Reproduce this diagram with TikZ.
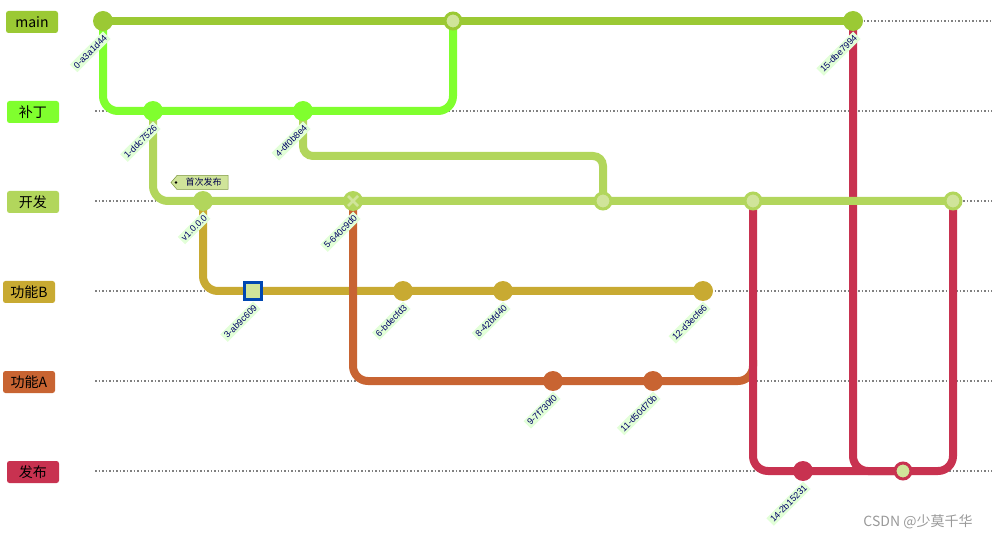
\documentclass[tikz,border=0pt]{standalone}
\usetikzlibrary{calc}
\usepackage{fontspec}
\setmainfont{Liberation Sans}
\newfontfamily\cjk{Noto Sans CJK SC}
\begin{document}
\begin{tikzpicture}[x=1pt,y=-1pt]
\definecolor{cmain}{HTML}{9BC934}
\definecolor{cpatch}{HTML}{80FF2E}
\definecolor{cdev}{HTML}{B2D65C}
\definecolor{cfb}{HTML}{C8AA32}
\definecolor{cfa}{HTML}{C86432}
\definecolor{crel}{HTML}{C83250}
\definecolor{clight}{HTML}{D0E49A}
\definecolor{clab}{HTML}{E2FFD8}
\tikzset{
 br/.style={line width=8pt,rounded corners=15pt},
 grid/.style={gray,dotted,line width=1.5pt},
 blabel/.style={rounded corners=2.5pt,minimum width=52pt,minimum height=22pt,inner sep=0pt,font=\cjk\fontsize{14}{14}\selectfont},
 clabel/.style={fill=clab,rotate=45,anchor=east,font=\fontsize{9}{9}\selectfont,text=black!60!blue,inner sep=2pt},
 cm/.style={circle,minimum size=20pt,inner sep=0pt,fill=#1},
 mg/.style={circle,minimum size=16pt,inner sep=0pt,fill=clight,draw=#1,line width=3pt},
}
\useasboundingbox (0,0) rectangle (1002,540);
% grid lines
\draw[grid] (860,21)--(992,21);
\foreach \y in {111,201,291,381,471} \draw[grid] (95,\y)--(992,\y);
% branch labels
\node[blabel,fill=cmain] (lmain) at (32,22) {main};
\node[blabel,fill=cpatch] (lpatch) at (33,112) {补丁};
\node[blabel,fill=cdev] (ldev) at (33,202) {开发};
\node[blabel,fill=cfb] (lfb) at (29,292) {功能B};
\node[blabel,fill=cfa] (lfa) at (29,382) {功能A};
\node[blabel,fill=crel] (lrel) at (33,472) {发布};
% commits coordinates
\coordinate (c0) at (103,21);
\coordinate (c1) at (153,111);
\coordinate (c2) at (203,201);
\coordinate (c3) at (253,291);
\coordinate (c4) at (303,111);
\coordinate (c5) at (353,201);
\coordinate (c6) at (403,291);
\coordinate (c7) at (453,21);
\coordinate (c8) at (503,291);
\coordinate (c9) at (553,381);
\coordinate (c10) at (603,201);
\coordinate (c11) at (653,381);
\coordinate (c12) at (703,291);
\coordinate (c13) at (753,201);
\coordinate (c14) at (803,471);
\coordinate (c15) at (853,21);
\coordinate (c16) at (953,201);
\coordinate (c17) at (903,471);
% branch lines
\draw[br,crel] (c15)--(853,471)--(c17);
\draw[br,cmain] (c0)--(c15);
\draw[br,cpatch] (c0)--(103,111)--(453,111)--(c7);
\draw[br,cdev] (c1)--(153,201)--(c16);
\draw[br,cdev,rounded corners=10pt] (c4)--(303,156)--(603,156)--(c10);
\draw[br,cfb] (c2)--(203,291)--(c12);
\draw[br,cfa] (c5)--(353,381)--(753,381)--(753,360);
\draw[br,crel] (c13)--(753,471)--(c17);
\draw[br,crel] (c16)--(953,471)--(c17);
% commits
\node[cm=cmain] (n0) at (c0) {};
\node[cm=cpatch] (n1) at (c1) {};
\node[cm=cdev] (n2) at (c2) {};
\node[draw=blue!60!cyan!70!black,line width=3pt,fill=clight,minimum size=17pt,inner sep=0pt] (n3) at (c3) {};
\node[cm=cpatch] (n4) at (c4) {};
\node[cm=cdev] (n5) at (c5) {};
\draw[clight,line width=2.5pt] ($(c5)+(-5,-5)$)--($(c5)+(5,5)$) ($(c5)+(-5,5)$)--($(c5)+(5,-5)$);
\node[cm=cfb] (n6) at (c6) {};
\node[mg=cmain] (n7) at (c7) {};
\node[cm=cfb] (n8) at (c8) {};
\node[cm=cfa] (n9) at (c9) {};
\node[mg=cdev] (n10) at (c10) {};
\node[cm=cfa] (n11) at (c11) {};
\node[cm=cfb] (n12) at (c12) {};
\node[mg=cdev] (n13) at (c13) {};
\node[cm=crel] (n14) at (c14) {};
\node[cm=cmain] (n15) at (c15) {};
\node[mg=cdev] (n16) at (c16) {};
\node[mg=crel] (n17) at (c17) {};
% commit labels
\foreach \c/\t in {0/0-a3a1d44,1/1-ddc7526,2/v1.0.0.0,3/3-ab9c609,4/4-df0b8e4,5/5-640c9d0,6/6-bdecfd3,8/8-42bfd40,9/9-7f730f0,11/11-d50d70b,12/12-d3ecfe6,14/14-2b15231,15/15-dbe7994}
  \node[clabel] (l\c) at ($(c\c)+(4,14)$) {\t};
% tag
\draw[fill=clight,draw=cdev!70!black,line width=0.5pt] (171,182.5)--(177,175.5)--(228,175.5)--(228,189.5)--(177,189.5)--cycle;
\fill[black] (176,182.5) circle (1.3pt);
\node[font=\cjk\fontsize{9}{9}\selectfont,text=black!70!blue,inner sep=0pt] (tag) at (203.5,182.5) {首次发布};
\node[font=\cjk\fontsize{14}{14}\selectfont,text=gray!80] (wm) at (918,522) {CSDN @少莫千华};
\end{tikzpicture}
\end{document}
